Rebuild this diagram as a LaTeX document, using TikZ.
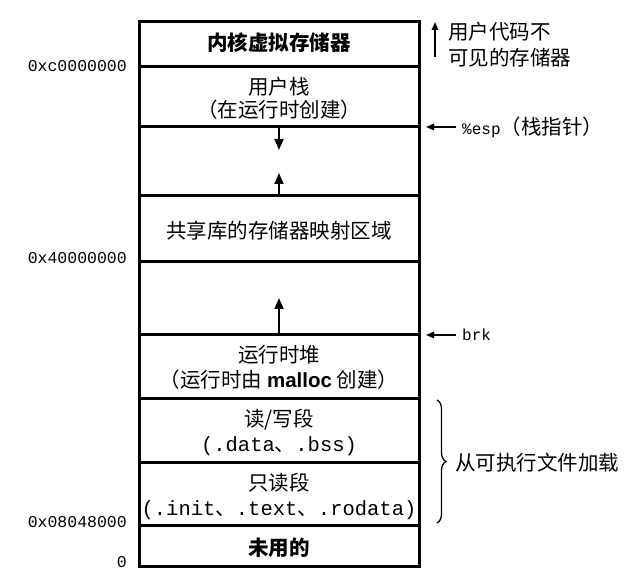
\documentclass[tikz,border=0pt]{standalone}
\usepackage{fontspec}
\usepackage{tikz}
\usetikzlibrary{arrows.meta,decorations.pathreplacing}
\setmainfont{Noto Sans CJK SC}
\setmonofont{Liberation Mono}
\newfontfamily\hexfont{Liberation Mono}
\newfontfamily\malfont{Liberation Sans}
\newcommand{\cjkbig}{\fontsize{20.5}{23}\selectfont}
\newcommand{\ttbig}{\fontsize{20.5}{23}\selectfont\ttfamily}
\newcommand{\ttmid}{\fontsize{16}{18}\selectfont\ttfamily}

\tikzset{
  seg/.style={font=\cjkbig, inner sep=0pt},
  addr/.style={font=\fontsize{16.5}{18}\selectfont\hexfont, anchor=east, inner sep=0pt},
  side/.style={font=\cjkbig, anchor=west, inner sep=0pt},
  growarrow/.style={line width=2pt, -{Triangle[length=11pt,width=9pt]}},
  ptr/.style={line width=1.5pt, -{Triangle[length=8pt,width=6.5pt]}},
}

\begin{document}
\begin{tikzpicture}[x=1pt,y=-1pt]
  \useasboundingbox (0,0) rectangle (641,585);

  %% segments
  \draw[line width=3pt] (139,22) rectangle (419,567);
  \foreach \y in {67,127,196,262,335,399,463,526}
    \draw[line width=3pt] (139,\y) -- (419,\y);

  \node[seg, font=\cjkbig\bfseries] (kernel) at (279,43) {内核虚拟存储器};
  \node[seg] (stack) at (279,87) {用户栈};
  \node[seg] (stackrt) at (279,110) {（在运行时创建）};
  \node[seg] (shlib) at (279,231) {共享库的存储器映射区域};
  \node[seg] (heap) at (279,355) {运行时堆};
  \node[seg] (heaprt) at (279,380) {（运行时由 {\malfont\bfseries malloc} 创建）};
  \node[seg] (rw) at (279,420) {读/写段};
  \node[seg] (rwsec) at (279,446) {{\ttbig(.data}、{\ttbig.bss)}};
  \node[seg] (ro) at (279,483) {只读段};
  \node[seg] (rosec) at (279,510) {{\ttbig(.init}、{\ttbig.text}、{\ttbig.rodata)}};
  \node[seg, font=\cjkbig\bfseries] (unused) at (279,548) {未用的};

  %% growth
  \coordinate (stacktop) at (279,127);
  \coordinate (stackdn) at (279,150);
  \coordinate (shlibbot) at (279,196);
  \coordinate (shlibup) at (279,173);
  \coordinate (heaptop) at (279,335);
  \coordinate (heapup) at (279,298);
  \draw[growarrow] (stacktop) -- (stackdn);
  \draw[growarrow] (shlibbot) -- (shlibup);
  \draw[growarrow] (heaptop) -- (heapup);

  %% addresses
  \node[addr] (kbase) at (127,66) {0xc0000000};
  \node[addr] (mbase) at (127,258) {0x40000000};
  \node[addr] (tbase) at (127,522) {0x08048000};
  \node[addr] (zero) at (127,562) {0};

  %% hidden
  \coordinate (hidlo) at (435,57);
  \coordinate (hidhi) at (435,22);
  \draw[ptr] (hidlo) -- (hidhi);
  \node[side] (hidden) at (448,32) {用户代码不};
  \node[side] (hiddenb) at (448,58) {可见的存储器};

  %% esp
  \node[side] (esp) at (462,127) {{\ttmid\%esp}（栈指针）};
  \coordinate (esptail) at (456,127);
  \coordinate (esphead) at (426,127);
  \draw[ptr] (esptail) -- (esphead);

  %% brk
  \node[side, font=\ttmid] (brk) at (462,335) {brk};
  \coordinate (brktail) at (456,335);
  \coordinate (brkhead) at (426,335);
  \draw[ptr] (brktail) -- (brkhead);

  %% loaded
  \coordinate (loadtop) at (437,400);
  \coordinate (loadbot) at (437,523);
  \draw[line width=1.3pt, decorate, decoration={brace, amplitude=9pt}] (loadtop) -- (loadbot);
  \node[side] (load) at (455,463) {从可执行文件加载};

\end{tikzpicture}
\end{document}
